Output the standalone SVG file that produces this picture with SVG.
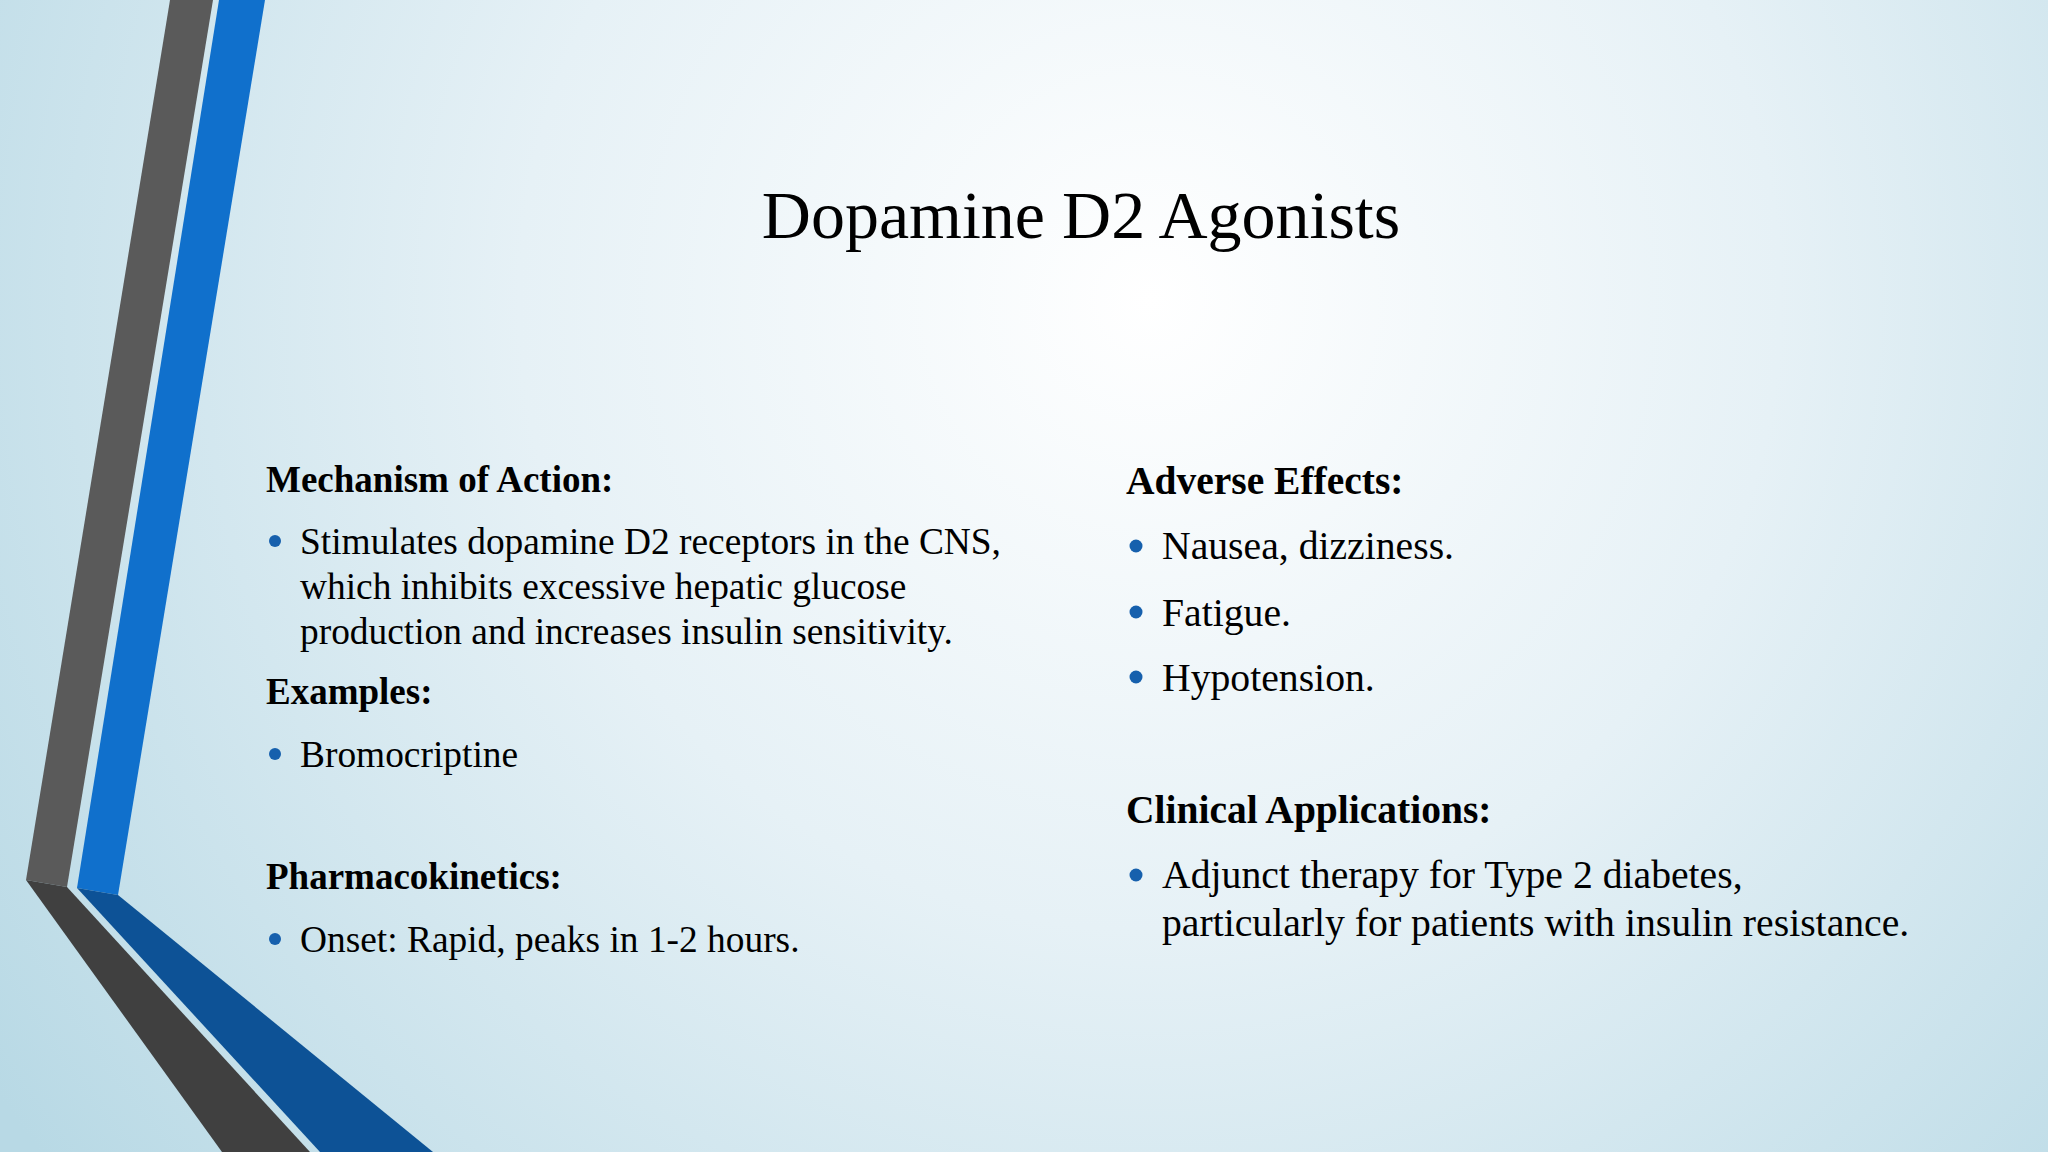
<svg xmlns="http://www.w3.org/2000/svg" width="2048" height="1152" viewBox="0 0 2048 1152">
<defs>
<radialGradient id="bg" cx="1150" cy="300" r="1400" gradientUnits="userSpaceOnUse">
<stop offset="0" stop-color="#ffffff"/>
<stop offset="0.45" stop-color="#e6f1f6"/>
<stop offset="1" stop-color="#b8d9e5"/>
</radialGradient>
<style>
text{font-family:"Liberation Serif","Times New Roman",serif;fill:#000}
.h{font-weight:bold;font-size:37px}
.hr{font-weight:bold;font-size:39.5px}
.b{font-size:37.4px}
.br{font-size:39.7px}
.dot{fill:#1660ad}
</style>
</defs>
<rect width="2048" height="1152" fill="url(#bg)"/>
<g id="stripes">
<polygon points="170,0 213,0 67,887 26,880" fill="#5a5a5a"/>
<polygon points="26,880 67,887 310,1152 222,1152" fill="#404040"/>
<polygon points="219,0 265,0 118,895 77,888" fill="#1070cc"/>
<polygon points="77,888 118,895 433,1152 320,1152" fill="#0d5296"/>
</g>
<g id="title"><text x="1081" y="238" font-size="68" text-anchor="middle">Dopamine D2 Agonists</text></g>
<g id="left">
<text class="h" x="266" y="492">Mechanism of Action:</text>
<circle class="dot" cx="275" cy="541" r="6"/>
<text class="b" x="300" y="554">Stimulates dopamine D2 receptors in the CNS,</text>
<text class="b" x="300" y="599">which inhibits excessive hepatic glucose</text>
<text class="b" x="300" y="644">production and increases insulin sensitivity.</text>
<text class="h" x="266" y="704">Examples:</text>
<circle class="dot" cx="275" cy="754" r="6"/>
<text class="b" x="300" y="767">Bromocriptine</text>
<text class="h" x="266" y="889">Pharmacokinetics:</text>
<circle class="dot" cx="275" cy="939" r="6"/>
<text class="b" x="300" y="952">Onset: Rapid, peaks in 1-2 hours.</text>
</g>
<g id="right">
<text class="hr" x="1126" y="494">Adverse Effects:</text>
<circle class="dot" cx="1136" cy="546" r="6.5"/>
<text class="br" x="1162" y="559">Nausea, dizziness.</text>
<circle class="dot" cx="1136" cy="612" r="6.5"/>
<text class="br" x="1162" y="626">Fatigue.</text>
<circle class="dot" cx="1136" cy="677" r="6.5"/>
<text class="br" x="1162" y="691">Hypotension.</text>
<text class="hr" x="1126" y="823">Clinical Applications:</text>
<circle class="dot" cx="1136" cy="875" r="6.5"/>
<text class="br" x="1162" y="888">Adjunct therapy for Type 2 diabetes,</text>
<text class="br" x="1162" y="936">particularly for patients with insulin resistance.</text>
</g>
</svg>
